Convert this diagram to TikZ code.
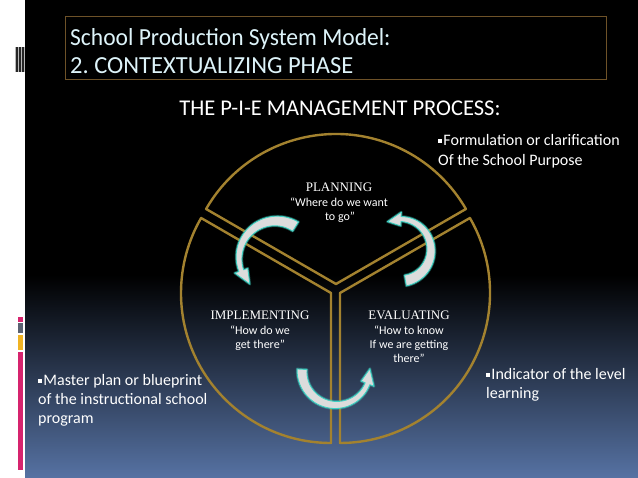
\documentclass[tikz,border=0pt]{standalone}
\usepackage{fontspec}
\setmainfont{Carlito}
\newfontfamily\serifA{Liberation Serif}
\usetikzlibrary{calc}
\frenchspacing
\definecolor{gold}{HTML}{A3822F}
\definecolor{boxbrown}{HTML}{6E5228}
\definecolor{titlecol}{HTML}{DDF3F9}
\definecolor{bgblue}{HTML}{5672A3}
\definecolor{bgmid}{HTML}{1F2B45}
\definecolor{arrowgray}{HTML}{DCDCDC}
\definecolor{arrowcyan}{HTML}{3FD0C2}
\definecolor{stripink}{HTML}{D6246E}
\definecolor{stripgray}{HTML}{5A6272}
\definecolor{stripyel}{HTML}{F0B323}
\newcommand{\bul}{\raisebox{0.2em}{\rule{0.25em}{0.25em}}\hspace{0.08em}}
% tapered curved arrow: cx cy r a1 a2 w1 w2 hw tip
\newcommand{\taparrow}[9]{%
  \path[arrowbody] plot[domain=#4:#5,samples=30,variable=\t]
    ({#1+(#3+0.5*((#6)+((#7)-(#6))*(\t-(#4))/((#5)-(#4))))*cos(\t)},
     {#2+(#3+0.5*((#6)+((#7)-(#6))*(\t-(#4))/((#5)-(#4))))*sin(\t)})
    -- ($(#1,#2)+(#5:#3+#8/2)$)
    -- ($(#1,#2)+(#9:#3)$)
    -- ($(#1,#2)+(#5:#3-#8/2)$)
    -- plot[domain=#5:#4,samples=30,variable=\t]
    ({#1+(#3-0.5*((#6)+((#7)-(#6))*(\t-(#4))/((#5)-(#4))))*cos(\t)},
     {#2+(#3-0.5*((#6)+((#7)-(#6))*(\t-(#4))/((#5)-(#4))))*sin(\t)})
    -- cycle;}
\begin{document}
\begin{tikzpicture}[x=1pt,y=-1pt,
  sector/.style={draw=gold,line width=2.4pt,line join=round},
  arrowbody/.style={fill=arrowgray,draw=arrowcyan,line width=0.9pt,line join=round,
     preaction={draw=arrowcyan,line width=2.6pt,opacity=0.35,line join=round}},
  titletxt/.style={text=titlecol,font=\fontsize{24.5}{28}\selectfont,anchor=base west,inner sep=0},
  subtxt/.style={text=white,font=\fontsize{22.5}{26}\selectfont,anchor=base,inner sep=0},
  phasetxt/.style={text=white,font=\serifA\fontsize{13}{15}\selectfont,anchor=base,inner sep=0},
  quotetxt/.style={text=white,font=\fontsize{12}{14}\selectfont,anchor=base,inner sep=0},
  sidetxt/.style={text=white,font=\fontsize{16}{19}\selectfont,anchor=base west,inner sep=0}]
\useasboundingbox (0,0) rectangle (638,478);
% background
\fill[white] (0,0) rectangle (638,478);
\fill[black] (25,0) rectangle (638,276);
\shade[top color=black,middle color=bgmid,bottom color=bgblue] (25,275) rectangle (638,478);
% left decorations
\fill[gray!55] (15,47) rectangle (25,72);
\fill[black!85] (16,47) rectangle (17.6,72);
\fill[black!85] (19,47) rectangle (21,72);
\fill[black!85] (22.4,47) rectangle (24,72);
\fill[stripink] (18,317) rectangle (23,322);
\fill[stripgray] (18,323) rectangle (23,333);
\fill[stripyel] (18,335) rectangle (23,350);
\fill[stripink] (18,352) rectangle (23,470);
% title box
\draw[boxbrown,line width=0.9pt] (65,16) rectangle (606,79);
\node[titletxt] (t1) at (70,46) {\scalebox{0.96}[1]{School Production System Model:}};
\node[titletxt] (t2) at (70,74) {2. CONTEXTUALIZING PHASE};
\node[subtxt] (sub) at (340,116) {THE P-I-E MANAGEMENT PROCESS:};
% sectors
\coordinate (pv) at (336,284);
\coordinate (iv) at (331,293);
\coordinate (ev) at (340,293);
\draw[sector] (pv) -- ++(-150:150) arc[start angle=-150,end angle=-30,radius=150] -- cycle;
\draw[sector] (iv) -- ++(90:150) arc[start angle=90,end angle=210,radius=150] -- cycle;
\draw[sector] (ev) -- ++(-30:150) arc[start angle=-30,end angle=90,radius=150] -- cycle;
% arrows
\taparrow{276}{258}{37}{-58}{-200}{11}{5}{14}{-225}
\taparrow{400}{250}{31}{80}{-88}{11}{5}{14}{-114}
\taparrow{336}{371}{34}{183}{22}{10}{5}{14}{-4}
% sector texts
\node[phasetxt] (plan) at (339,192) {PLANNING};
\node[quotetxt] (plan1) at (339,207) {“Where do we want};
\node[quotetxt] (plan2) at (340,221) {to go”};
\node[phasetxt] (impl) at (260,320) {IMPLEMENTING};
\node[quotetxt] (impl1) at (260,335) {“How do we};
\node[quotetxt] (impl2) at (260,349) {get there”};
\node[phasetxt] (eval) at (409,320) {EVALUATING};
\node[quotetxt] (eval1) at (409,335) {“How to know};
\node[quotetxt] (eval2) at (409,349) {If we are getting};
\node[quotetxt] (eval3) at (409,363) {there”};
% side texts
\node[sidetxt] (f1) at (438,146) {\bul Formulation or clarification};
\node[sidetxt] (f2) at (438,166) {Of the School Purpose};
\node[sidetxt] (r1) at (486,380) {\bul Indicator of the level};
\node[sidetxt] (r2) at (486,399) {learning};
\node[sidetxt] (m1) at (38,386) {\bul Master plan or blueprint};
\node[sidetxt] (m2) at (38,405) {of the instructional school};
\node[sidetxt] (m3) at (38,424) {program};
\end{tikzpicture}
\end{document}
